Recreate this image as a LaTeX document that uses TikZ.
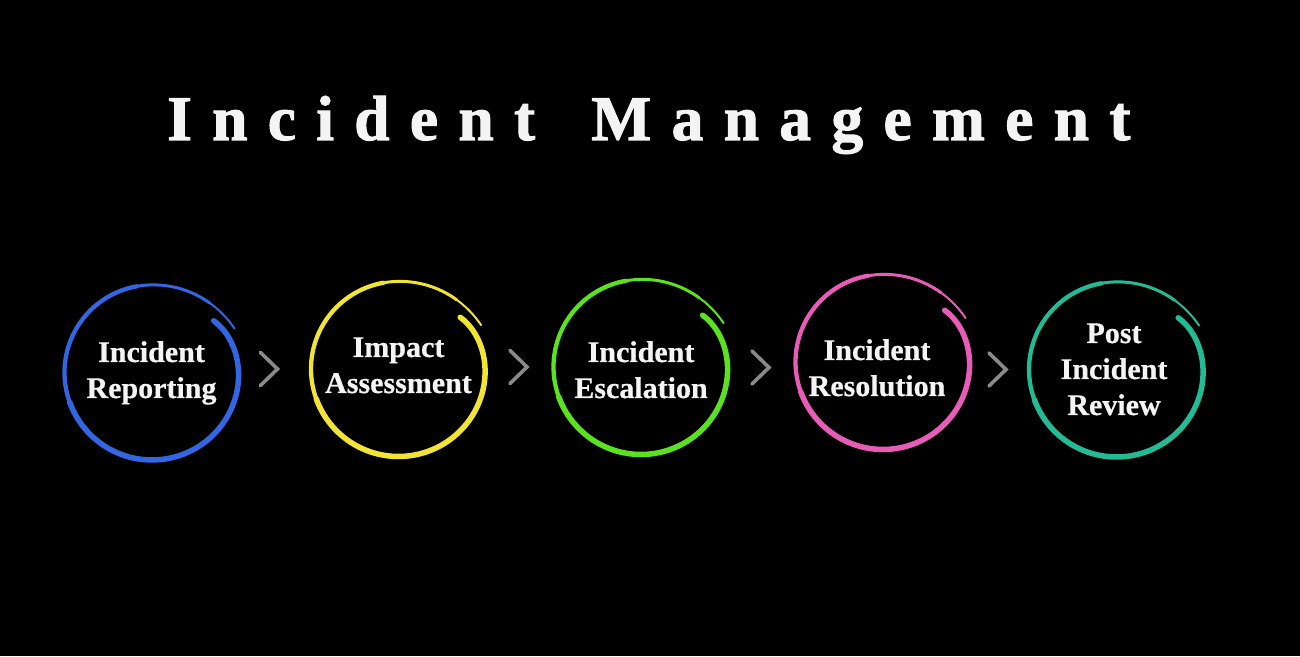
\documentclass[tikz,border=0pt]{standalone}
\usepackage{fontspec}
\setmainfont{Liberation Serif}
\newfontfamily\titlefont[LetterSpace=32,FakeBold=1.6]{Liberation Serif Bold}
\newfontfamily\labelfont[FakeBold=0.6]{Liberation Serif Bold}
\usetikzlibrary{calc}
\definecolor{cblue}{HTML}{3366E3}
\definecolor{cyellow}{HTML}{F2E433}
\definecolor{cgreen}{HTML}{5BE21E}
\definecolor{cpink}{HTML}{E85CB8}
\definecolor{cteal}{HTML}{22BB96}
\definecolor{chevgray}{HTML}{8A8A8A}
\definecolor{txtwhite}{HTML}{F4F4F4}
\begin{document}
\begin{tikzpicture}[x=1pt,y=1pt,
  declare function={brushr(\t)=87.5-7*exp(-\t/20)+6*(max(\t-300,0)/72)^2;},
  lbl/.style={anchor=base,inner sep=0pt,text=txtwhite,
    font=\labelfont\fontsize{30}{36}\selectfont},
  chev/.style={draw=chevgray,line width=3.6pt,line cap=round,line join=miter},
  titlestyle/.style={anchor=base west,inner sep=0pt,text=txtwhite,
    font=\titlefont\fontsize{63.5}{70}\selectfont}]
\fill[black] (0,0) rectangle (1300,656);
\useasboundingbox (0,0) rectangle (1300,656);

% title
\node[titlestyle] (title) at (167,516) {Incident\hspace{20pt} Management};

% circle centres
\coordinate (c1) at (152,283.5);
\coordinate (c2) at (398.5,287);
\coordinate (c3) at (641,289);
\coordinate (c4) at (883,294);
\coordinate (c5) at (1116.5,286.5);

% brush circles
\foreach \c/\col in {c1/cblue,c2/cyellow,c3/cgreen,c4/cpink,c5/cteal}{
  \begin{scope}[shift={(\c)}]
    \draw[\col,line width=5.5pt,line cap=round]
      plot[domain=0:200,samples=100] ({40-\x}:{brushr(\x)});
    \draw[\col,line width=4.3pt,line cap=round]
      plot[domain=195:300,samples=60] ({40-\x}:{brushr(\x)});
    \draw[\col,line width=3pt,line cap=round]
      plot[domain=295:350,samples=40] ({40-\x}:{brushr(\x)});
    \draw[\col,line width=2pt,line cap=round]
      plot[domain=345:372,samples=20] ({40-\x}:{brushr(\x)});
  \end{scope}
}

% labels
\node[lbl] (t1) at (151.5,294) {\begin{tabular}[t]{@{}c@{}}Incident\\Reporting\end{tabular}};
\node[lbl] (t2) at (398.5,299) {\begin{tabular}[t]{@{}c@{}}Impact\\Assessment\end{tabular}};
\node[lbl] (t3) at (641,294) {\begin{tabular}[t]{@{}c@{}}Incident\\Escalation\end{tabular}};
\node[lbl] (t4) at (877,296) {\begin{tabular}[t]{@{}c@{}}Incident\\Resolution\end{tabular}};
\node[lbl] (t5) at (1114,313) {\begin{tabular}[t]{@{}c@{}}Post\\Incident\\Review\end{tabular}};

% chevrons
\coordinate (v1) at (269,287);
\coordinate (v2) at (518.5,289);
\coordinate (v3) at (760.5,288.5);
\coordinate (v4) at (997.5,286.5);
\foreach \v in {v1,v2,v3,v4}{
  \draw[chev] ($(\v)+(-8.5,16.5)$) -- ($(\v)+(8.5,0)$) -- ($(\v)+(-8.5,-16.5)$);
}
\end{tikzpicture}
\end{document}
